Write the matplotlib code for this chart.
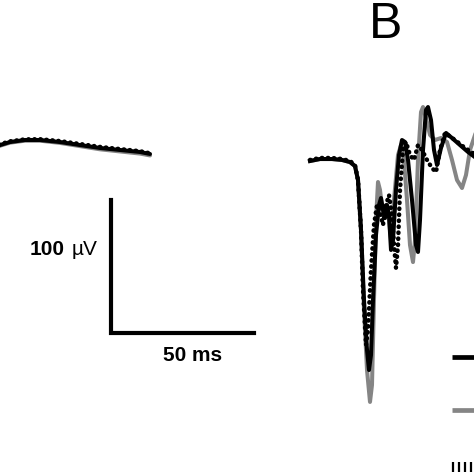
import numpy as np
import matplotlib.pyplot as plt

plt.rcParams['font.family'] = ['Liberation Sans', 'DejaVu Sans']

# panel A trace (ms, uV), three conditions overlapping
a_t = [-1.75, 0, 3.5, 8.75, 14.0, 21.0, 28.0, 35.0, 42.0, 49.0, 52.5]
a_black = [10.5, 12.0, 14.3, 15.8, 15.8, 14.3, 12.0, 9.8, 8.3, 6.8, 5.3]
a_gray = [10.0, 11.5, 13.8, 15.3, 15.3, 13.6, 11.2, 8.8, 7.2, 5.6, 4.2]
a_dot = [11.0, 12.6, 14.8, 16.3, 16.4, 15.0, 12.8, 10.6, 9.0, 7.4, 5.8]

# panel B traces (ms from trace start, uV)
b_t_black = [0, 3.5, 7.7, 11.2, 14.0, 15.75, 16.8, 17.85, 18.9, 19.95, 20.65, 21.35,
             22.05, 23.1, 24.15, 24.85, 25.55, 26.25, 26.95, 27.65, 28.35, 29.05,
             30.1, 31.15, 32.2, 33.25, 34.3, 35.7, 37.1, 37.8, 38.5, 39.55, 40.6,
             41.3, 42.35, 43.4, 44.45, 45.85, 47.6, 49.7, 52.5, 55.3, 58.1]
b_black = [0, 1.5, 1.5, 0.8, -0.8, -3.8, -14.3, -51.9, -104.5, -142.1, -157.2, -145.9,
           -104.5, -55.6, -33.1, -27.8, -36.8, -42.9, -33.1, -40.6, -66.9, -59.4,
           -21.8, 4.5, 15.8, 14.3, 0.8, -29.3, -63.2, -68.4, -44.4, 8.3, 38.4,
           40.6, 30.8, 8.3, -3.0, 9.8, 21.1, 17.3, 12.0, 6.8, 2.3]

b_t_gray = [0, 3.5, 7.7, 11.2, 14.0, 15.75, 16.8, 17.85, 18.9, 19.95, 21.0, 21.7,
            22.4, 23.1, 23.8, 24.5, 25.55, 26.6, 27.65, 28.35, 29.4, 30.8, 31.85,
            32.9, 33.95, 35.0, 36.05, 36.75, 37.8, 38.85, 39.55, 40.6, 42.0, 43.75,
            45.85, 47.95, 49.7, 51.45, 53.2, 54.6, 56.0, 58.1]
b_gray = [0, 1.5, 1.5, 0.8, -0.8, -3.8, -14.3, -51.9, -112.0, -157.2, -181.2, -168.4,
          -104.5, -44.4, -15.8, -21.8, -40.6, -33.1, -44.4, -59.4, -29.3, 4.5, 12.0,
          0.8, -29.3, -63.2, -76.0, -59.4, 0.8, 36.8, 40.6, 32.3, 19.6, 15.8,
          17.3, 14.3, 0.8, -14.3, -20.3, -10.5, 8.3, 21.8]

b_t_dot = [0, 3.5, 7.7, 11.2, 14.0, 15.75, 16.8, 17.85, 18.55, 19.6, 20.3, 21.35,
           22.4, 23.45, 24.5, 25.55, 26.6, 27.65, 28.7, 29.4, 30.1, 30.8, 31.5,
           32.55, 33.6, 35.0, 36.4, 37.8, 39.2, 40.95, 42.7, 44.1, 45.5, 47.25,
           50.75, 54.25, 58.1]
b_dot = [0.8, 2.3, 2.3, 1.5, 0, -3.0, -14.3, -51.9, -97.0, -138.4, -127.1, -82.0,
         -48.1, -33.1, -38.4, -48.1, -33.1, -25.6, -40.6, -63.2, -80.5, -63.2, -21.8,
         8.3, 14.3, 4.5, 0.8, 12.0, 8.3, 0.8, -5.3, -8.3, 8.3, 21.1,
         15.8, 9.8, 4.5]

B_START = 108.5  # ms offset of panel B on the shared canvas
GRAY = '#858585'
LW = 2.9

fig = plt.figure(figsize=(4.74, 4.74), dpi=100)
ax = fig.add_axes([0, 0, 1, 1])
ax.set_xlim(0, 165.9)
ax.set_ylim(-235.4, 121.1)
ax.axis('off')

dot_kw = dict(color='black', lw=3.2, linestyle=(0, (0.1, 1.25)),
              dash_capstyle='round', solid_capstyle='round')

# panel A
ax.plot(a_t, a_gray, color=GRAY, lw=LW, solid_capstyle='round')
ax.plot(a_t, a_black, color='black', lw=LW, solid_capstyle='round')
ax.plot(a_t, a_dot, **dot_kw)

# scale bars
ax.plot([38.85, 38.85, 88.85], [-29.3, -129.3, -129.3], color='black', lw=3,
        solid_joinstyle='miter')
ax.text(10.2, -66.9, '100', fontsize=15, fontweight='bold', ha='left', va='center')
ax.text(25.0, -66.9, '\u00b5V', fontsize=15, ha='left', va='center')
ax.text(67.5, -146.6, '50 ms', fontsize=15, fontweight='bold', ha='center', va='center')

# panel B
ax.text(129.0, 92.5, 'B', fontsize=36, ha='left', va='baseline')
bt = lambda t: np.asarray(t) + B_START
ax.plot(bt(b_t_gray), b_gray, color=GRAY, lw=LW, solid_joinstyle='round')
ax.plot(bt(b_t_black), b_black, color='black', lw=LW, solid_joinstyle='round')
ax.plot(bt(b_t_dot), b_dot, **dot_kw)

# legend swatches (cropped at the right edge)
ax.plot([158.2, 167], [-147.4, -147.4], color='black', lw=3.4, solid_capstyle='butt')
ax.plot([158.2, 167], [-187.2, -187.2], color=GRAY, lw=3.4, solid_capstyle='butt')
ax.plot(np.arange(158.5, 166, 2.1), [-230] * 4, ls='none', marker='|',
        ms=7, mew=1.6, color='black')

fig.savefig('out.png', dpi=100)
